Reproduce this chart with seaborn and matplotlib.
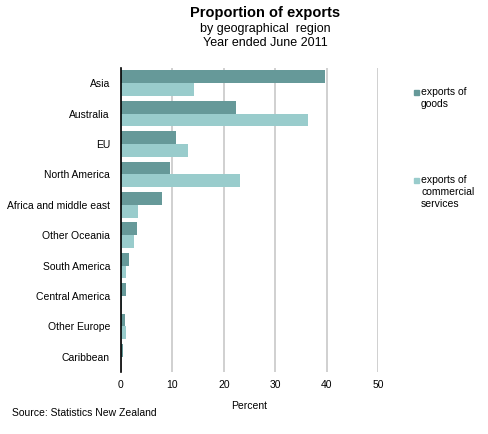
import numpy as np
import pandas as pd
import matplotlib
matplotlib.use("Agg")
import matplotlib.pyplot as plt
import seaborn as sns

# DATA
regions = ['Asia', 'Australia', 'EU', 'North America', 'Africa and middle east',
           'Other Oceania', 'South America', 'Central America', 'Other Europe', 'Caribbean']
goods = [39.7, 22.4, 10.7, 9.6, 8.0, 3.2, 1.6, 1.0, 0.8, 0.4]
services = [14.2, 36.3, 13.1, 23.2, 3.4, 2.6, 1.0, 0.2, 1.0, 0.0]
series_names = ['exports of\ngoods', 'exports of\ncommercial\nservices']
x_ticks = [0, 10, 20, 30, 40, 50]

GOODS_COLOR = '#669999'
SERVICES_COLOR = '#99CCCC'

df = pd.DataFrame({
    'region': regions * 2,
    'value': goods + services,
    'series': [series_names[0]] * len(regions) + [series_names[1]] * len(regions),
})

sns.set_style('white')
plt.rcParams['font.family'] = ['Liberation Sans', 'DejaVu Sans']
plt.rcParams['text.color'] = 'black'
plt.rcParams['xtick.color'] = 'black'
plt.rcParams['ytick.color'] = 'black'
plt.rcParams['axes.labelcolor'] = 'black'

fig = plt.figure(figsize=(4.88, 4.34), dpi=100)
ax = fig.add_axes([121 / 488, 1 - 372 / 434, 257 / 488, 304 / 434])

sns.barplot(
    data=df, y='region', x='value', hue='series', order=regions,
    hue_order=series_names, palette=[GOODS_COLOR, SERVICES_COLOR],
    width=0.84, saturation=1, ax=ax, legend=False, orient='h', linewidth=0
)

ax.set_xlim(0, 50)
ax.set_ylim(9.5, -0.5)
ax.set_xticks(x_ticks)
ax.set_xticklabels([str(t) for t in x_ticks], fontsize=7.5)
ax.tick_params(axis='y', labelsize=7.5, length=0, pad=8)
ax.tick_params(axis='x', length=0, pad=6)
ax.grid(axis='x', color='#C8C8C8', linewidth=1.2)
ax.set_axisbelow(True)
for side in ['top', 'right', 'bottom']:
    ax.spines[side].set_visible(False)
ax.spines['left'].set_color('black')
ax.spines['left'].set_linewidth(1.2)
ax.set_ylabel('')
ax.set_xlabel('Percent', fontsize=7.5, labelpad=8)

# TITLES
fig.text(265 / 488, 1 - 13 / 434, 'Proportion of exports', ha='center', va='center',
         fontsize=10.5, fontweight='bold')
fig.text(265 / 488, 1 - 29 / 434, 'by geographical  region', ha='center', va='center', fontsize=9)
fig.text(265 / 488, 1 - 43 / 434, 'Year ended June 2011', ha='center', va='center', fontsize=9)

# LEGEND
for name, color, ytop in [(series_names[0], GOODS_COLOR, 87), (series_names[1], SERVICES_COLOR, 175)]:
    fig.patches.append(plt.Rectangle((414 / 488, 1 - (ytop + 8) / 434), 5 / 488, 5 / 434,
                                     transform=fig.transFigure, color=color))
    fig.text(421 / 488, 1 - ytop / 434, name, ha='left', va='top', fontsize=7.5, linespacing=1.25)

fig.text(12 / 488, 1 - 413 / 434, 'Source: Statistics New Zealand', ha='left', va='center', fontsize=7.5)

fig.savefig('out.png', dpi=100)
